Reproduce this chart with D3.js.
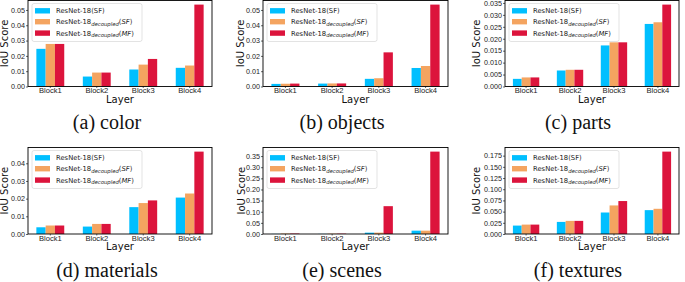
<!DOCTYPE html>
<html>
<head>
<meta charset="utf-8">
<script src="https://cdn.jsdelivr.net/npm/d3@7"></script>
<style>
  body { margin: 0; background: #fff; }
</style>
</head>
<body>
<svg></svg>
<script>
const width = 685, height = 282;
const svg = d3.select("svg").attr("width", width).attr("height", height)
    .style("font-family", "DejaVu Sans, sans-serif");

// Categories and series
const blocks = ["Block1", "Block2", "Block3", "Block4"];
const seriesKeys = ["sf", "decSF", "decMF"];
const seriesColors = ["#00bfff", "#f4a460", "#dc143c"];

// IoU values (SF, decoupled SF, decoupled MF)
const colorSF     = [0.0246, 0.0065, 0.0111, 0.0122];
const colorDecSF  = [0.0278, 0.0091, 0.0143, 0.0137];
const colorDecMF  = [0.0278, 0.0091, 0.0180, 0.0535];

const objectsSF    = [0.0017, 0.0019, 0.0050, 0.0121];
const objectsDecSF = [0.0018, 0.0020, 0.0054, 0.0134];
const objectsDecMF = [0.0019, 0.0020, 0.0223, 0.0535];

const partsSF    = [0.0032, 0.0067, 0.0172, 0.0262];
const partsDecSF = [0.0038, 0.0070, 0.0185, 0.0269];
const partsDecMF = [0.0038, 0.0070, 0.0185, 0.0343];

const materialsSF    = [0.0038, 0.0042, 0.0152, 0.0206];
const materialsDecSF = [0.0048, 0.0057, 0.0175, 0.0229];
const materialsDecMF = [0.0048, 0.0057, 0.0190, 0.0466];

const scenesSF    = [0.0005, 0.0005, 0.0060, 0.0150];
const scenesDecSF = [0.0020, 0.0015, 0.0060, 0.0150];
const scenesDecMF = [0.0020, 0.0015, 0.1250, 0.3700];

const texturesSF    = [0.0188, 0.0270, 0.0480, 0.0533];
const texturesDecSF = [0.0210, 0.0293, 0.0638, 0.0563];
const texturesDecMF = [0.0210, 0.0293, 0.0736, 0.1840];

// Tick values
const ticks05  = [0, 0.01, 0.02, 0.03, 0.04, 0.05];
const ticks035 = [0, 0.005, 0.01, 0.015, 0.02, 0.025, 0.03, 0.035];
const ticks04  = [0, 0.01, 0.02, 0.03, 0.04];
const ticks35  = [0, 0.05, 0.1, 0.15, 0.2, 0.25, 0.3, 0.35];
const ticks175 = [0, 0.025, 0.05, 0.075, 0.1, 0.125, 0.15, 0.175];

const panels = [
  { cap: "(a) color",     vals: [colorSF, colorDecSF, colorDecMF],             ticks: ticks05,  fmt: ".2f",
    left: 28,  right: 212, top: 0.5,   bottom: 86.5, capX: 107, ylabX: 8 },
  { cap: "(b) objects",   vals: [objectsSF, objectsDecSF, objectsDecMF],       ticks: ticks05,  fmt: ".2f",
    left: 263, right: 448, top: 0.5,   bottom: 86.5, capX: 342, ylabX: 244 },
  { cap: "(c) parts",     vals: [partsSF, partsDecSF, partsDecMF],             ticks: ticks035, fmt: ".3f",
    left: 505, right: 679, top: 0.5,   bottom: 86.5, capX: 578, ylabX: 480 },
  { cap: "(d) materials", vals: [materialsSF, materialsDecSF, materialsDecMF], ticks: ticks04,  fmt: ".2f",
    left: 28,  right: 212, top: 147.5, bottom: 234,  capX: 107, ylabX: 8 },
  { cap: "(e) scenes",    vals: [scenesSF, scenesDecSF, scenesDecMF],          ticks: ticks35,  fmt: ".2f",
    left: 263, right: 448, top: 147.5, bottom: 234,  capX: 342, ylabX: 245 },
  { cap: "(f) textures",  vals: [texturesSF, texturesDecSF, texturesDecMF],    ticks: ticks175, fmt: ".3f",
    left: 505, right: 679, top: 147.5, bottom: 234,  capX: 578, ylabX: 480 }
];

panels.forEach(p => {
  const g = svg.append("g");
  const ymax = d3.max(p.vals.flat()) * 1.05;

  const x = d3.scaleBand().domain(blocks).range([p.left, p.right])
      .paddingInner(0.4).paddingOuter(0.18);
  const xs = d3.scaleBand().domain(seriesKeys).range([0, x.bandwidth()]);
  const y = d3.scaleLinear().domain([0, ymax]).range([p.bottom, p.top]);

  // bars
  seriesKeys.forEach((k, si) => {
    g.append("g").selectAll("rect")
      .data(p.vals[si])
      .join("rect")
      .attr("x", (d, i) => x(blocks[i]) + xs(k))
      .attr("width", xs.bandwidth())
      .attr("y", d => y(d))
      .attr("height", d => y(0) - y(d))
      .attr("fill", seriesColors[si]);
  });

  // y axis
  const ya = g.append("g").attr("transform", `translate(${p.left},0)`)
      .call(d3.axisLeft(y).tickValues(p.ticks).tickFormat(d3.format(p.fmt))
        .tickSize(2).tickPadding(1));
  ya.select(".domain").remove();
  ya.selectAll("text").attr("font-size", 7.2).attr("font-family", null).attr("fill", "#222");
  ya.selectAll("line").attr("stroke", "#000").attr("stroke-width", 0.6);

  // x axis
  const xa = g.append("g").attr("transform", `translate(0,${p.bottom})`)
      .call(d3.axisBottom(x).tickSize(1.5).tickPadding(0));
  xa.select(".domain").remove();
  xa.selectAll("text").attr("font-size", 7.6).attr("font-family", null).attr("fill", "#222");
  xa.selectAll("line").attr("stroke", "#000").attr("stroke-width", 0.6);

  // frame
  g.append("rect")
    .attr("x", p.left).attr("y", p.top)
    .attr("width", p.right - p.left).attr("height", p.bottom - p.top)
    .attr("fill", "none").attr("stroke", "#000").attr("stroke-width", 0.9);

  // labels
  g.append("text")
    .attr("x", (p.left + p.right) / 2).attr("y", p.bottom + 16)
    .attr("text-anchor", "middle").attr("font-size", 10).attr("fill", "#111")
    .text("Layer");
  g.append("text")
    .attr("transform", `translate(${p.ylabX},${(p.top + p.bottom) / 2}) rotate(-90)`)
    .attr("text-anchor", "middle").attr("font-size", 10).attr("fill", "#111")
    .text("IoU Score");

  // legend
  const lg = g.append("g").attr("transform", `translate(${p.left + 4},${p.top + 3})`);
  lg.append("rect").attr("width", 110).attr("height", 38).attr("rx", 2)
    .attr("fill", "#fff").attr("fill-opacity", 0.8)
    .attr("stroke", "#d0d0d0").attr("stroke-width", 0.6);
  const rowY = [7.3, 18.2, 29.6];
  seriesKeys.forEach((k, si) => {
    lg.append("rect").attr("x", 3).attr("y", rowY[si] - 2.7)
      .attr("width", 15).attr("height", 5.4).attr("fill", seriesColors[si]);
    const t = lg.append("text").attr("x", 24).attr("y", rowY[si] + 2.4)
      .attr("font-size", 6.8).attr("fill", "#222");
    t.append("tspan").text("ResNet-18");
    if (si > 0) {
      t.append("tspan").attr("font-size", 5.3).attr("font-style", "italic")
        .attr("dy", 1.5).text("decoupled");
      t.append("tspan").attr("dy", -1.5).text("(");
      t.append("tspan").attr("font-style", "italic").text(si === 1 ? "SF" : "MF");
      t.append("tspan").text(")");
    } else {
      t.append("tspan").text("(SF)");
    }
  });

  // caption
  svg.append("text")
    .attr("x", p.capX).attr("y", p.bottom + 42.5)
    .attr("text-anchor", "middle")
    .style("font-family", "Liberation Serif, serif").attr("font-size", 20)
    .attr("fill", "#111")
    .text(p.cap);
});
</script>
</body>
</html>
